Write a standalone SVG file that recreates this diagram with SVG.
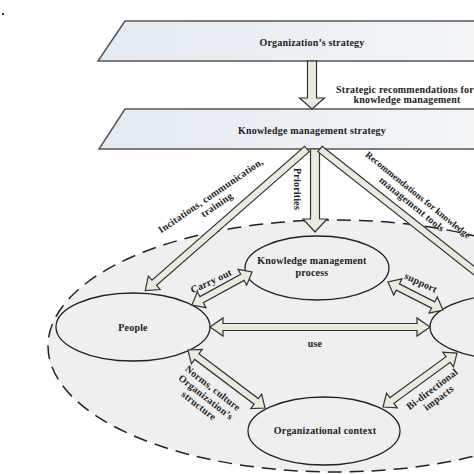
<svg xmlns="http://www.w3.org/2000/svg" width="474" height="474" viewBox="0 0 474 474">
<style>
  .t{font-family:"Liberation Serif","Times New Roman",serif;font-weight:bold;font-size:10px;letter-spacing:0.2px;fill:#222;text-anchor:middle;dominant-baseline:central}
  .node{fill:#efefef;stroke:#222;stroke-width:1.3}
  .para{fill:url(#pg);stroke:#555;stroke-width:1.5}
  .arr{fill:#e9ebdc;stroke:#333;stroke-width:1.2;stroke-linejoin:miter}
</style>
<defs>
  <linearGradient id="pg" x1="0" y1="0" x2="1" y2="0">
    <stop offset="0" stop-color="#e3eaf2"/>
    <stop offset="1" stop-color="#f3f5f7"/>
  </linearGradient>
</defs>
<rect width="474" height="474" fill="#ffffff"/>
<rect x="2" y="13" width="2" height="2" fill="#333"/>

<g id="context-boundary">
  <ellipse cx="335" cy="346" rx="287" ry="126" fill="#efefef" stroke="#222" stroke-width="1.5" stroke-dasharray="14 8"/>
</g>

<g id="org-strategy">
  <polygon class="para" points="125,21 480,21 480,61 98,61"/>
  <text class="t" x="312" y="42">Organization’s strategy</text>
</g>
<g id="km-strategy">
  <polygon class="para" points="125,109 480,109 480,149 99,149"/>
  <text class="t" x="312" y="130">Knowledge management strategy</text>
</g>

<g id="people">
  <ellipse class="node" cx="133" cy="327" rx="77" ry="34"/>
  <text class="t" x="133" y="327">People</text>
</g>
<g id="km-process">
  <ellipse class="node" cx="317" cy="268" rx="72" ry="32"/>
  <text class="t" x="312" y="260">Knowledge management</text>
  <text class="t" x="312" y="272">process</text>
</g>
<g id="tools">
  <ellipse class="node" cx="506" cy="327" rx="76" ry="32"/>
</g>
<g id="org-context">
  <ellipse class="node" cx="324" cy="431" rx="76" ry="34"/>
  <text class="t" x="325" y="430">Organizational context</text>
</g>

<g id="connectors">
  <polygon class="arr" points="307.5,61 316.5,61 316.5,98 324.5,98 312,109 299.5,98 307.5,98"/>
  <polygon class="arr" points="310.5,149 319.5,149 319.5,219 327,219 315,232 303,219 310.5,219"/>
  <polygon class="arr" transform="translate(307,149) rotate(138.8)" points="0,-3.5 203,-3.5 203,-9 215,0 203,9 203,3.5 0,3.5"/>
  <polygon class="arr" transform="translate(320,149) rotate(38.3)" points="0,-3.5 218,-3.5 218,-9 230,0 218,9 218,3.5 0,3.5"/>
  <polygon class="arr" transform="translate(192,305) rotate(-28.8)" points="11,-3.5 57.5,-3.5 57.5,-9 68.5,0 57.5,9 57.5,3.5 11,3.5 11,9 0,0 11,-9"/>
  <polygon class="arr" transform="translate(388,282) rotate(27)" points="11,-3.5 50.7,-3.5 50.7,-9 61.7,0 50.7,9 50.7,3.5 11,3.5 11,9 0,0 11,-9"/>
  <polygon class="arr" transform="translate(210,327)" points="13,-3.5 207,-3.5 207,-9 220,0 207,9 207,3.5 13,3.5 13,9 0,0 13,-9"/>
  <polygon class="arr" transform="translate(188,350) rotate(37)" points="11,-3.5 85.4,-3.5 85.4,-9 96.4,0 85.4,9 85.4,3.5 11,3.5 11,9 0,0 11,-9"/>
  <polygon class="arr" transform="translate(383,407) rotate(-36.1)" points="11,-3.5 80.6,-3.5 80.6,-9 91.6,0 80.6,9 80.6,3.5 11,3.5 11,9 0,0 11,-9"/>

  <text class="t" x="405" y="89">Strategic recommendations for</text>
  <text class="t" x="407" y="99">knowledge management</text>
  <text class="t" transform="translate(297,189) rotate(90)">Priorities</text>
  <text class="t" transform="translate(210.5,195.5) rotate(-34.4)">Incitations, communication,</text>
  <text class="t" transform="translate(216.7,204.6) rotate(-34.4)">training</text>
  <text class="t" style="font-size:9.3px;letter-spacing:0" transform="translate(418,195) rotate(39)">Recommendations for knowledge</text>
  <text class="t" transform="translate(412,204) rotate(39)">management tools</text>
  <text class="t" transform="translate(211,281) rotate(-25)">Carry out</text>
  <text class="t" transform="translate(421,282.5) rotate(25)">support</text>
  <text class="t" x="315" y="343">use</text>
  <text class="t" transform="translate(213,388) rotate(38)">Norms, culture</text>
  <text class="t" transform="translate(206,397) rotate(38)">Organization’s</text>
  <text class="t" transform="translate(199,405.5) rotate(38)">structure</text>
  <text class="t" transform="translate(432,389) rotate(-37)">Bi-directional</text>
  <text class="t" transform="translate(438.6,397.8) rotate(-37)">impacts</text>
</g>
</svg>
